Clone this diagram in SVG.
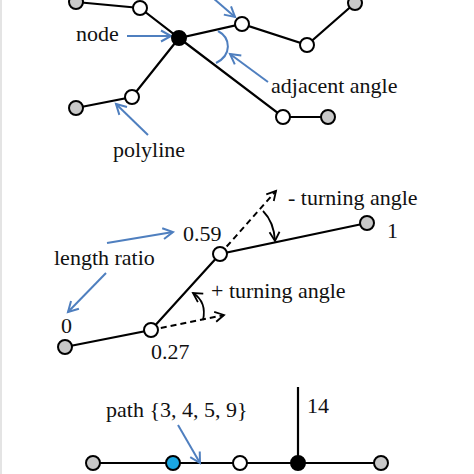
<svg xmlns="http://www.w3.org/2000/svg" width="474" height="474" viewBox="0 0 474 474">
<defs>
<style>
.e{stroke:#000;stroke-width:2.2;fill:none}
.d{stroke:#000;stroke-width:2;fill:none;stroke-dasharray:6 4}
.b{stroke:#4f7fbf;stroke-width:2;fill:none}
.k{stroke:#000;stroke-width:1.8;fill:none}
.n{stroke:#000;stroke-width:2}
.w{fill:#fff}
.g{fill:#c8c8c8}
.f{fill:#000}
.c{fill:#1aa7e2}
text{font-family:"Liberation Serif","Times New Roman",serif;font-size:22px;fill:#111}
</style>
<marker id="ab" markerUnits="userSpaceOnUse" markerWidth="24" markerHeight="24" viewBox="-12 -12 24 24" refX="0" refY="0" orient="auto">
<path d="M-10,-5.5 L0,0 L-10,5.5" stroke="#4f7fbf" stroke-width="2" fill="none"/>
</marker>
<marker id="ak" markerUnits="userSpaceOnUse" markerWidth="24" markerHeight="24" viewBox="-12 -12 24 24" refX="0" refY="0" orient="auto">
<path d="M-9,-5 L0,0 L-9,5" stroke="#000" stroke-width="1.8" fill="none"/>
</marker>
</defs>
<rect x="0" y="0" width="474" height="474" fill="#fff"/>
<rect x="0" y="0" width="2" height="474" fill="#e4e4e4"/>
<g id="connectors">
<path class="e" d="M76,2 L140,8 L179,38 L242,24 L307,45 L355,3"/>
<path class="e" d="M179,38 L132,97 L76,108"/>
<path class="e" d="M179,38 L283,117 L328,117"/>
<path class="e" d="M65,347 L151,330 L220,254 L367,223"/>
<path class="d" d="M151,330 L224,315" marker-end="url(#ak)"/>
<path class="d" d="M220,254 L276,191" marker-end="url(#ak)"/>
<path class="k" d="M263,211 Q274,222 275,241" marker-end="url(#ak)"/>
<path class="k" d="M203,320 Q207,302 193,293" marker-end="url(#ak)"/>
<path class="e" d="M93,463 L381,463"/>
<path class="e" d="M298,387 L298,463"/>
<path class="b" d="M127,36 L171,36" marker-end="url(#ab)"/>
<path class="b" d="M268,82 L230,54" marker-end="url(#ab)"/>
<path class="b" d="M148,135 L116,104" marker-end="url(#ab)"/>
<path class="b" d="M213,-2 L235,17" marker-end="url(#ab)"/>
<path class="b" d="M218,31 C231,38 232,55 216,63"/>
<path class="b" d="M107,243 L173,232" marker-end="url(#ab)"/>
<path class="b" d="M106,273 L68,312" marker-end="url(#ab)"/>
<path class="b" d="M178,425 L200,463" marker-end="url(#ab)"/>
</g>
<g id="node-t1"><circle class="n g" cx="76" cy="2" r="7"/></g>
<g id="node-t2"><circle class="n w" cx="140" cy="8" r="7"/></g>
<g id="node-center"><circle class="n f" cx="179" cy="38" r="7"/></g>
<g id="node-t3"><circle class="n w" cx="242" cy="24" r="7"/></g>
<g id="node-t4"><circle class="n w" cx="307" cy="45" r="7"/></g>
<g id="node-t5"><circle class="n g" cx="355" cy="3" r="7"/></g>
<g id="node-t6"><circle class="n w" cx="132" cy="97" r="7"/></g>
<g id="node-t7"><circle class="n g" cx="76" cy="108" r="7"/></g>
<g id="node-t8"><circle class="n w" cx="283" cy="117" r="7"/></g>
<g id="node-t9"><circle class="n g" cx="328" cy="117" r="7"/></g>
<g id="node-m1"><circle class="n g" cx="65" cy="347" r="7"/></g>
<g id="node-m2"><circle class="n w" cx="151" cy="330" r="7"/></g>
<g id="node-m3"><circle class="n w" cx="220" cy="254" r="7"/></g>
<g id="node-m4"><circle class="n g" cx="367" cy="223" r="7"/></g>
<g id="node-b1"><circle class="n g" cx="93" cy="463" r="7"/></g>
<g id="node-b2"><circle class="n c" cx="173" cy="463" r="7"/></g>
<g id="node-b3"><circle class="n w" cx="240" cy="463" r="7"/></g>
<g id="node-b4"><circle class="n f" cx="298" cy="463" r="7"/></g>
<g id="node-b5"><circle class="n g" cx="381" cy="463" r="7"/></g>
<g id="labels">
<text x="76" y="41">node</text>
<text x="271" y="93">adjacent angle</text>
<text x="113" y="157">polyline</text>
<text x="288" y="205">- turning angle</text>
<text x="183" y="241">0.59</text>
<text x="387" y="238">1</text>
<text x="54" y="265">length ratio</text>
<text x="211" y="298">+ turning angle</text>
<text x="61" y="333">0</text>
<text x="151" y="359">0.27</text>
<text x="106" y="417">path {3, 4, 5, 9}</text>
<text x="307" y="413">14</text>
</g>
</svg>
